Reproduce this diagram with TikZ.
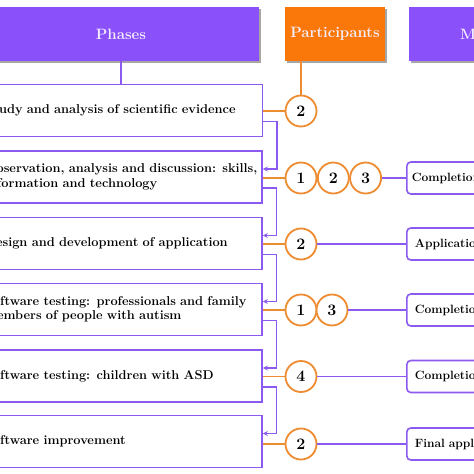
\documentclass[tikz,border=0pt]{standalone}
\usetikzlibrary{positioning,arrows.meta,shadows}
\definecolor{hdpurple}{RGB}{138,80,250}
\definecolor{hdorange}{RGB}{250,120,10}
\definecolor{lnpurple}{RGB}{140,90,240}
\definecolor{lnorange}{RGB}{238,140,50}
\definecolor{hdtext}{RGB}{245,238,255}
\begin{document}
\begin{tikzpicture}[x=1pt,y=-1pt,
    header/.style={minimum height=54pt, inner sep=0pt, text=hdtext, font=\fontsize{15}{17}\selectfont\bfseries,
        drop shadow={shadow xshift=1.5pt, shadow yshift=-2pt, opacity=.35, fill=black}},
    phase/.style={draw=lnpurple, line width=1.6pt, fill=white, minimum height=52pt, text width=273pt,
        inner xsep=4pt, align=left, font=\fontsize{12.8}{14.5}\selectfont\bfseries},
    part/.style={circle, draw=lnorange, line width=1.8pt, fill=white, minimum size=31pt, inner sep=0pt,
        font=\fontsize{16}{16}\selectfont\bfseries},
    result/.style={draw=lnpurple, line width=1.6pt, rounded corners=4pt, minimum height=32pt, text width=120pt,
        inner xsep=8pt, align=left, anchor=west, font=\fontsize{12}{13}\selectfont\bfseries},
    flow/.style={lnpurple, line width=1.4pt, -{Stealth[length=5pt,width=5pt]}},
    plink/.style={lnorange, line width=1.6pt},
    rlink/.style={lnpurple, line width=1.6pt}]

    \clip (0,0) rectangle (474,474);
    \fill[white] (0,0) rectangle (474,474);

    % headers
    \node[header, fill=hdpurple, minimum width=276pt] (ph) at (121,34) {Phases};
    \node[header, fill=hdorange, minimum width=100pt] (pa) at (335,34) {Participants};
    \node[header, fill=hdpurple, anchor=west, text width=100pt, inner xsep=51pt, align=left] (mh) at (409,34) {M};

    % phases
    \node[phase] (p1) at (122,110.5) {Study and analysis of scientific evidence};
    \node[phase] (p2) at (121.5,177) {Observation, analysis and discussion: skills,\\ information and technology};
    \node[phase] (p3) at (121.5,243.5) {Design and development of application};
    \node[phase] (p4) at (121.5,309.5) {Software testing: professionals and family\\ members of people with autism};
    \node[phase] (p5) at (121.5,376) {Software testing: children with ASD};
    \node[phase] (p6) at (121.5,441.5) {Software improvement};

    \draw[lnpurple, line width=1.6pt] (ph.south) -- (ph.south |- p1.north);

    \draw[flow] ([yshift=-11pt]p1.east) -- ++(13.5,0) |- ([yshift=8pt]p2.east);
    \draw[flow] ([yshift=-11pt]p2.east) -- ++(13.5,0) |- ([yshift=8pt]p3.east);
    \draw[flow] ([yshift=-11pt]p3.east) -- ++(13.5,0) |- ([yshift=8pt]p4.east);
    \draw[flow] ([yshift=-11pt]p4.east) -- ++(13.5,0) |- ([yshift=8pt]p5.east);
    \draw[flow] ([yshift=-11pt]p5.east) -- ++(13.5,0) |- ([yshift=8pt]p6.east);

    % participants
    \node[part] (c1) at (301,111) {2};
    \node[part] (c2a) at (301,178) {1};
    \node[part, right=-0.5pt of c2a] (c2b) {2};
    \node[part, right=-0.5pt of c2b] (c2c) {3};
    \node[part] (c3) at (301,244) {2};
    \node[part] (c4a) at (301,310) {1};
    \node[part, right=-1.8pt of c4a] (c4b) {3};
    \node[part] (c5) at (301,376.5) {4};
    \node[part] (c6) at (301,444) {2};

    \draw[plink] (pa.south -| c1) -- (c1.north);
    \draw[plink] (p1.east |- c1) -- (c1.west);
    \draw[plink] (p2.east |- c2a) -- (c2a.west);
    \draw[plink] (p3.east |- c3) -- (c3.west);
    \draw[plink] (p4.east |- c4a) -- (c4a.west);
    \draw[plink] (p5.east |- c5) -- (c5.west);
    \draw[plink] (p6.east |- c6) -- (c6.west);

    % results
    \node[result, inner xsep=5pt] (r2) at (406,178) {Completion};
    \node[result] (r3) at (406,244) {Application};
    \node[result] (r4) at (406,310) {Completion};
    \node[result] (r5) at (406,376.5) {Completion};
    \node[result] (r6) at (406,444) {Final application};

    \draw[rlink] (c2c.east) -- (r2.west);
    \draw[rlink] (c3.east) -- (r3.west);
    \draw[rlink] (c4b.east) -- (r4.west);
    \draw[rlink] (c5.east) -- (r5.west);
    \draw[rlink] (c6.east) -- (r6.west);

\end{tikzpicture}
\end{document}
